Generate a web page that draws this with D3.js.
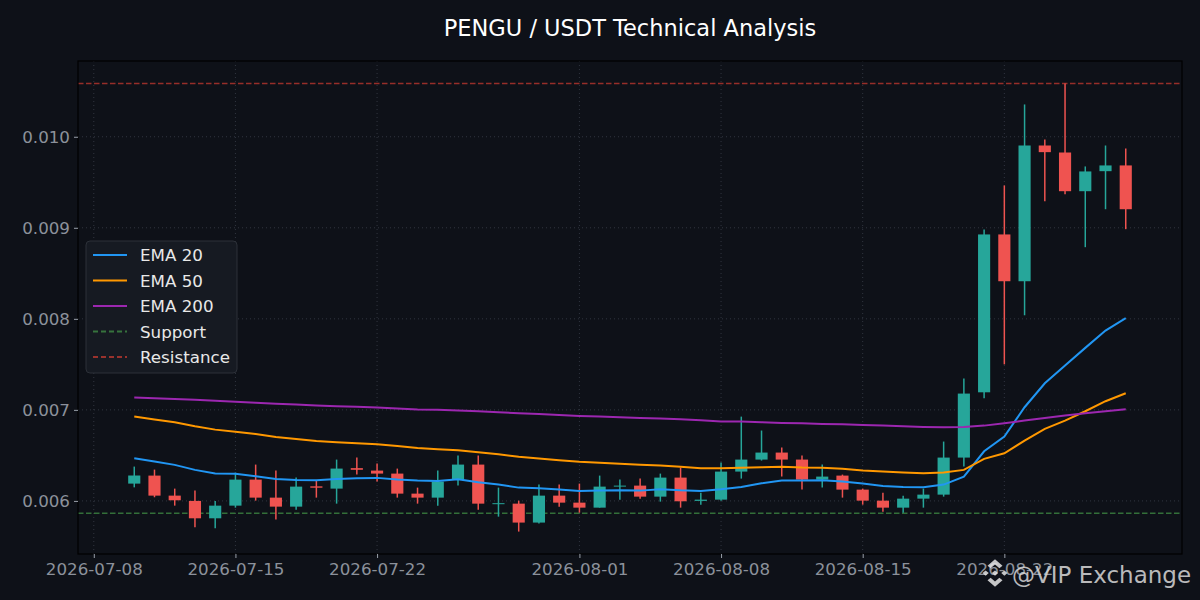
<!DOCTYPE html>
<head>
  <meta charset="utf-8">
  <script src="https://d3js.org/d3.v7.min.js"></script>
  <style>
  body { margin: 0; background: #0e1118; }
  text { font-family: "DejaVu Sans", sans-serif; }
  </style>
</head>
<body>
<svg width="1200" height="600"></svg>

<script type="text/javascript">
// daily candles, 2026-07-10 .. 2026-08-28
var firstDay = "2026-07-10";
var opens  = [0.00619,0.006278,0.006058,0.006,0.005809,0.005948,0.006234,0.006036,0.005937,0.00616,
              0.006135,0.00636,0.006333,0.0063,0.00608,0.006036,0.006234,0.006399,0.00597,0.00597,
              0.005762,0.006058,0.005981,0.005926,0.006163,0.006168,0.006047,0.006256,0.006,0.006014,
              0.006322,0.006454,0.006531,0.006454,0.006234,0.006278,0.006124,0.006003,0.005926,0.006025,
              0.006069,0.006476,0.007193,0.008927,0.008413,0.009904,0.009827,0.009402,0.009622,0.009685];
var highs  = [0.006377,0.006344,0.006135,0.006113,0.006,0.006311,0.006399,0.006333,0.006256,0.006223,
              0.006454,0.006476,0.00641,0.006355,0.006146,0.006333,0.006498,0.006498,0.006146,0.006003,
              0.006179,0.006179,0.00619,0.006278,0.006234,0.006245,0.0063,0.006366,0.006091,0.006421,
              0.006926,0.006773,0.006586,0.006498,0.006399,0.006289,0.006135,0.006091,0.006058,0.006135,
              0.006652,0.007345,0.008982,0.009465,0.010355,0.00997,0.010586,0.009674,0.009904,0.009871];
var lows   = [0.006149,0.00604,0.005948,0.00571,0.005699,0.005926,0.006003,0.005795,0.005904,0.006036,
              0.00597,0.006289,0.006212,0.006036,0.00597,0.005948,0.006168,0.005904,0.005827,0.005663,
              0.005751,0.005937,0.005871,0.005926,0.006014,0.006025,0.005992,0.005926,0.005959,0.006003,
              0.006245,0.006443,0.006267,0.006124,0.006146,0.006036,0.005959,0.005882,0.005871,0.005926,
              0.006047,0.006377,0.007128,0.0075,0.008039,0.009292,0.009369,0.008787,0.009204,0.008985];
var closes = [0.006279,0.006058,0.006007,0.005809,0.005948,0.006234,0.006036,0.005937,0.006157,0.006145,
              0.006355,0.006342,0.0063,0.00608,0.006036,0.006212,0.006399,0.00597,0.005975,0.005762,
              0.006058,0.005981,0.005926,0.006157,0.006168,0.006047,0.006256,0.005996,0.006014,0.006322,
              0.006454,0.006531,0.006454,0.006234,0.006267,0.006124,0.006003,0.005926,0.006025,0.006069,
              0.006476,0.007179,0.008927,0.008413,0.009904,0.009831,0.009402,0.009619,0.009685,0.009204];

var ema20  = [0.006468,0.006432,0.006396,0.006341,0.0063,0.006297,0.00627,0.006242,0.006231,0.006226,
              0.006242,0.006249,0.006253,0.006234,0.006224,0.00622,0.006237,0.006204,0.006179,0.006146,
              0.006138,0.006124,0.00611,0.006113,0.006116,0.006113,0.006127,0.006116,0.00611,0.006127,
              0.006154,0.006193,0.006223,0.006223,0.006226,0.006212,0.00619,0.006165,0.006154,0.006149,
              0.006179,0.006267,0.006545,0.006707,0.007029,0.007292,0.007487,0.007681,0.007871,0.008007];
var ema50  = [0.006926,0.006893,0.006864,0.00682,0.006783,0.006761,0.006736,0.006703,0.006681,0.006659,
              0.006644,0.006633,0.006622,0.006604,0.006582,0.006567,0.006556,0.006534,0.006512,0.006484,
              0.006465,0.006446,0.006429,0.006418,0.006407,0.006396,0.006388,0.006374,0.006358,0.006358,
              0.006363,0.006369,0.006374,0.006366,0.006363,0.006352,0.006333,0.006322,0.006311,0.006303,
              0.006311,0.006341,0.006462,0.006523,0.006663,0.006791,0.006882,0.006985,0.007095,0.007182];
var ema200 = [0.007135,0.007127,0.00712,0.00711,0.007099,0.007088,0.007077,0.007066,0.007058,0.007047,
              0.00704,0.007033,0.007025,0.007014,0.007003,0.007,0.006992,0.006985,0.006974,0.006963,
              0.006956,0.006945,0.006934,0.006926,0.006919,0.006912,0.006904,0.006897,0.006886,0.006873,
              0.006871,0.006864,0.006857,0.006853,0.006846,0.006842,0.006835,0.006827,0.00682,0.006813,
              0.006809,0.006813,0.006827,0.006853,0.006882,0.006912,0.006937,0.006963,0.006985,0.007007];

var supportLevel = 0.005864;
var resistanceLevel = 0.010586;
var yTicks = [0.006, 0.007, 0.008, 0.009, 0.010];
var xTicks = ["2026-07-08","2026-07-15","2026-07-22","2026-08-01","2026-08-08","2026-08-15","2026-08-22"];

var svg = d3.select("svg");
var W = 1200, H = 600;
var m = {left: 78, right: 1182, top: 61, bottom: 554};

svg.append("rect").attr("width", W).attr("height", H).attr("fill", "#0e1118");

var parse = d3.utcParse("%Y-%m-%d");
var day = 864e5;
var t0 = parse(firstDay);
var data = opens.map(function(o, i) {
  return {date: new Date(+t0 + i * day), o: o, h: highs[i], l: lows[i], c: closes[i],
          e20: ema20[i], e50: ema50[i], e200: ema200[i]};
});

// matplotlib-style 5% margins around the bar extents
var xs = +data[0].date - 0.3 * day, xe = +data[data.length - 1].date + 0.3 * day;
var xpad = (xe - xs) * 0.05;
var x = d3.scaleUtc().domain([new Date(xs - xpad), new Date(xe + xpad)]).range([m.left, m.right]);
var ylo = d3.min(lows), yhi = d3.max(highs);
var ypad = (yhi - ylo) * 0.05;
var y = d3.scaleLinear().domain([ylo - ypad, yhi + ypad]).range([m.bottom, m.top]);

// grid
var g = svg.append("g");
g.selectAll(".gy").data(yTicks).enter().append("line")
  .attr("x1", m.left).attr("x2", m.right)
  .attr("y1", function(d) { return y(d); }).attr("y2", function(d) { return y(d); })
  .attr("stroke", "#3a3f4a").attr("stroke-width", 0.8).attr("stroke-dasharray", "1,3");
g.selectAll(".gx").data(xTicks).enter().append("line")
  .attr("y1", m.top).attr("y2", m.bottom)
  .attr("x1", function(d) { return x(parse(d)); }).attr("x2", function(d) { return x(parse(d)); })
  .attr("stroke", "#3a3f4a").attr("stroke-width", 0.8).attr("stroke-dasharray", "1,3");

// support / resistance
svg.append("line").attr("x1", m.left).attr("x2", m.right)
  .attr("y1", y(supportLevel)).attr("y2", y(supportLevel))
  .attr("stroke", "#4caf50").attr("stroke-opacity", 0.6).attr("stroke-width", 1.5).attr("stroke-dasharray", "5.5,2.5");
svg.append("line").attr("x1", m.left).attr("x2", m.right)
  .attr("y1", y(resistanceLevel)).attr("y2", y(resistanceLevel))
  .attr("stroke", "#f44336").attr("stroke-opacity", 0.6).attr("stroke-width", 1.5).attr("stroke-dasharray", "5.5,2.5");

// candles
var bw = x(new Date(+t0 + 0.6 * day)) - x(t0);
var up = "#26a69a", down = "#ef5350";
var candles = svg.append("g").selectAll("g").data(data).enter().append("g");
candles.append("line")
  .attr("x1", function(d) { return x(d.date); }).attr("x2", function(d) { return x(d.date); })
  .attr("y1", function(d) { return y(d.h); }).attr("y2", function(d) { return y(d.l); })
  .attr("stroke", function(d) { return d.c >= d.o ? up : down; }).attr("stroke-width", 1.5);
candles.append("rect")
  .attr("x", function(d) { return x(d.date) - bw / 2; })
  .attr("width", bw)
  .attr("y", function(d) { return y(Math.max(d.o, d.c)); })
  .attr("height", function(d) { return Math.max(1, Math.abs(y(d.o) - y(d.c))); })
  .attr("fill", function(d) { return d.c >= d.o ? up : down; });

// EMA lines
var emas = [
  {key: "e20", color: "#2196f3", label: "EMA 20"},
  {key: "e50", color: "#ff9800", label: "EMA 50"},
  {key: "e200", color: "#9c27b0", label: "EMA 200"}
];
emas.forEach(function(e) {
  svg.append("path").datum(data)
    .attr("fill", "none").attr("stroke", e.color).attr("stroke-width", 2)
    .attr("d", d3.line().x(function(d) { return x(d.date); }).y(function(d) { return y(d[e.key]); }));
});

// frame
svg.append("rect").attr("x", m.left).attr("y", m.top)
  .attr("width", m.right - m.left).attr("height", m.bottom - m.top)
  .attr("fill", "none").attr("stroke", "#000").attr("stroke-width", 1.2);

// axes
var yAxis = svg.append("g").attr("transform", "translate(" + m.left + ",0)")
  .call(d3.axisLeft(y).tickValues(yTicks).tickFormat(d3.format(".3f")).tickSize(4).tickPadding(4));
var xAxis = svg.append("g").attr("transform", "translate(0," + m.bottom + ")")
  .call(d3.axisBottom(x).tickValues(xTicks.map(parse)).tickFormat(d3.utcFormat("%Y-%m-%d")).tickSize(4).tickPadding(5));
[xAxis, yAxis].forEach(function(a) {
  a.select(".domain").remove();
  a.selectAll(".tick line").attr("stroke", "#9aa0aa");
  a.selectAll("text").attr("fill", "#8c919b").style("font-size", "16.7px").style("font-family", "DejaVu Sans");
});

// title
svg.append("text").attr("x", 630).attr("y", 36).attr("text-anchor", "middle")
  .attr("fill", "#ffffff").style("font-size", "22.5px").text("PENGU / USDT Technical Analysis");

// legend
var leg = svg.append("g").attr("transform", "translate(86,241)");
leg.append("rect").attr("width", 151).attr("height", 132).attr("rx", 4)
  .attr("fill", "#161a22").attr("stroke", "#2c3038").attr("stroke-width", 1);
var legItems = emas.map(function(e) { return {color: e.color, label: e.label, dash: null, op: 1}; })
  .concat([{color: "#4caf50", label: "Support", dash: "5,3", op: 0.6},
           {color: "#f44336", label: "Resistance", dash: "5,3", op: 0.6}]);
legItems.forEach(function(it, i) {
  var yy = 14 + i * 25.5;
  leg.append("line").attr("x1", 7).attr("x2", 41).attr("y1", yy).attr("y2", yy)
    .attr("stroke", it.color).attr("stroke-width", 2).attr("stroke-opacity", it.op)
    .attr("stroke-dasharray", it.dash);
  leg.append("text").attr("x", 54).attr("y", yy + 6).attr("fill", "#e8e8e8")
    .style("font-size", "16.7px").text(it.label);
});

// watermark
var wm = svg.append("g").attr("opacity", 0.85);
var lg = wm.append("g").attr("transform", "translate(995,573) scale(1.25,1.05)").attr("fill", "#e6e6e6");
lg.append("path").attr("d", "M0,-13 L6,-7 L3.5,-4.5 L0,-8 L-3.5,-4.5 L-6,-7 Z");
lg.append("path").attr("d", "M0,13 L6,7 L3.5,4.5 L0,8 L-3.5,4.5 L-6,7 Z");
lg.append("path").attr("d", "M-10,0 L-7.5,-2.5 L-5,0 L-7.5,2.5 Z");
lg.append("path").attr("d", "M10,0 L7.5,-2.5 L5,0 L7.5,2.5 Z");
lg.append("path").attr("d", "M0,-2.5 L2.5,0 L0,2.5 L-2.5,0 Z");
wm.append("text").attr("x", 1012).attr("y", 583).attr("fill", "#d8d8d8")
  .style("font-size", "23px").text("@VIP Exchange");
</script>
</body>
</html>
